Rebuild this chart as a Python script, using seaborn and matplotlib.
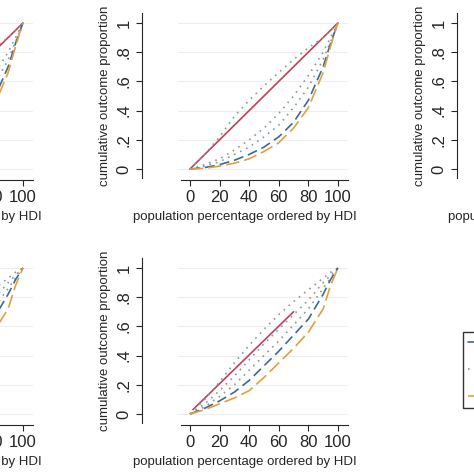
import matplotlib
matplotlib.use("Agg")
import matplotlib.pyplot as plt
import seaborn as sns
from matplotlib.lines import Line2D

sns.set_style("white")
plt.rcParams['font.family'] = ['Liberation Sans', 'DejaVu Sans']

pct = [0, 10, 20, 30, 40, 50, 60, 70, 80, 90, 95, 100]

# top row
top_eq_x = [0, 100]
top_eq_y = [0.0, 1.0]
top_dot_hi = [0, 0.10, 0.22, 0.36, 0.47, 0.57, 0.66, 0.75, 0.83, 0.90, 0.95, 1]
top_dot_a = [0, 0.03, 0.07, 0.13, 0.20, 0.28, 0.38, 0.50, 0.64, 0.80, 0.90, 1]
top_dot_b = [0, 0.02, 0.05, 0.10, 0.15, 0.22, 0.30, 0.42, 0.56, 0.75, 0.87, 1]
top_blue = [0, 0.01, 0.03, 0.06, 0.10, 0.15, 0.22, 0.32, 0.47, 0.70, 0.86, 1]
top_orange = [0, 0.005, 0.02, 0.04, 0.07, 0.12, 0.18, 0.28, 0.42, 0.66, 0.84, 1]

# bottom row
bot_eq_x = [2, 70]
bot_eq_y = [0.03, 0.70]
bot_dot_hi = [0, 0.10, 0.22, 0.35, 0.47, 0.58, 0.68, 0.77, 0.85, 0.93, 0.97, 1]
bot_dot_a = [0, 0.07, 0.16, 0.26, 0.37, 0.48, 0.58, 0.68, 0.78, 0.90, 0.95, 1]
bot_dot_b = [0, 0.05, 0.12, 0.20, 0.30, 0.40, 0.50, 0.61, 0.72, 0.86, 0.93, 1]
bot_blue = [0, 0.04, 0.09, 0.15, 0.23, 0.33, 0.43, 0.54, 0.65, 0.82, 0.92, 1]
bot_orange = [0, 0.03, 0.07, 0.11, 0.16, 0.25, 0.35, 0.45, 0.56, 0.72, 0.88, 1]

x_ticks = [0, 20, 40, 60, 80, 100]
y_ticks = [0, 0.2, 0.4, 0.6, 0.8, 1.0]
y_tick_labels = ["0", ".2", ".4", ".6", ".8", "1"]

RED = "#c0405a"
BLUE = "#3b6a95"
GRAY = "#8a9a9a"
ORANGE = "#e0a040"

W = 474.0
fig = plt.figure(figsize=(4.74, 4.74), dpi=100)


def panel(left_px, top_px, rows, show_data=True):
    # axes box: 206 px wide, 168 px tall
    ax = fig.add_axes([left_px / W, 1 - (top_px + 168) / W, 206 / W, 168 / W])
    ax.set_xlim(-32.4, 106.8)
    ax.set_ylim(-0.075, 1.075)
    if show_data:
        eq_x, eq_y, hi, a, b, blue, orange = rows
        sns.lineplot(x=eq_x, y=eq_y, ax=ax, color=RED, lw=1.2)
        for s in (hi, a, b):
            sns.lineplot(x=pct, y=s, ax=ax, color=GRAY, lw=1.2, linestyle=(0, (1, 3)))
        sns.lineplot(x=pct, y=blue, ax=ax, color=BLUE, lw=1.2, linestyle=(0, (6, 3)))
        sns.lineplot(x=pct, y=orange, ax=ax, color=ORANGE, lw=1.2, linestyle=(0, (8, 3)))
    for yt in y_ticks:
        ax.axhline(yt, xmin=(-8 + 32.4) / 139.2, xmax=1, color="#eeeeee", lw=0.8, zorder=0)
    sns.despine(ax=ax)
    ax.spines['bottom'].set_bounds(-6, 107)
    ax.spines['left'].set_bounds(-0.06, 1.07)
    ax.set_xticks(x_ticks)
    ax.set_yticks(y_ticks)
    ax.set_yticklabels(y_tick_labels, rotation=90, va="center")
    ax.tick_params(labelsize=12, length=4, width=0.8, direction="out", left=True, bottom=True)
    ax.set_xlabel("population percentage ordered by HDI", fontsize=9.5)
    ax.set_ylabel("cumulative outcome proportion", fontsize=9.5)
    ax.grid(False)
    return ax


top = (top_eq_x, top_eq_y, top_dot_hi, top_dot_a, top_dot_b, top_blue, top_orange)
bot = (bot_eq_x, bot_eq_y, bot_dot_hi, bot_dot_a, bot_dot_b, bot_blue, bot_orange)

for off in (-315, 0, 315):
    panel(142 + off, 12, top, show_data=off <= 0)
for off in (-315, 0):
    panel(142 + off, 257, bot)

handles = [Line2D([], [], color=BLUE, lw=1.2),
           Line2D([], [], color=GRAY, lw=1.2, linestyle=(0, (1, 3))),
           Line2D([], [], color=ORANGE, lw=1.2, linestyle=(0, (8, 3)))]
fig.legend(handles, ["Health", "Education", "Income"], loc="upper left",
           bbox_to_anchor=(457 / W, 1 - 326 / W), frameon=True, fancybox=False,
           edgecolor="black", fontsize=9, handlelength=2.2, labelspacing=1.2)

fig.savefig("out.png", dpi=100)
